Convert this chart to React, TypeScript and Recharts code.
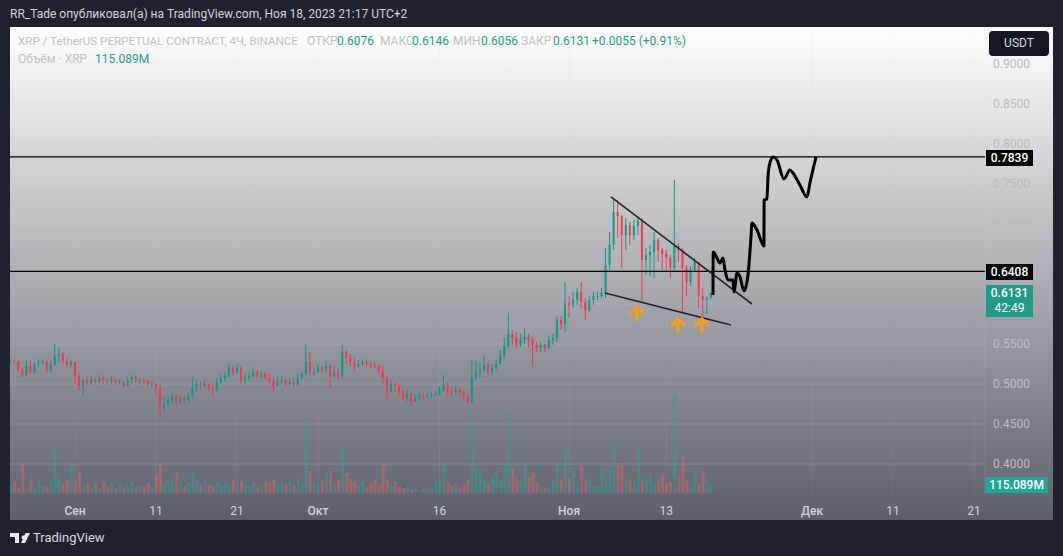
import React from 'react'
import { ComposedChart, Bar, Line, XAxis, YAxis, CartesianGrid, ReferenceLine, ReferenceDot } from 'recharts'

// 12h candles, first one about Aug 24
const closes = [
  .529, .528, .5175, .511, .5225, .515, .525, .5275, .529, .5175, .524, .535, .5375, .529, .524, .5275, .51, .4975, .505, .501,
  .506, .5025, .5075, .505, .504, .506, .5025, .5025, .4975, .505, .509, .505, .505, .504, .5, .5, .495, .47, .475, .48,
  .485, .4775, .4825, .48, .485, .495, .5, .4975, .5, .495, .4925, .5025, .5075, .51, .52, .515, .52, .505, .5075, .51,
  .515, .511, .5125, .5075, .504, .495, .5025, .505, .5, .5025, .5, .5075, .5125, .5275, .515, .515, .52, .5175, .5225, .51,
  .515, .51, .54, .5325, .5275, .5225, .525, .5275, .525, .524, .5225, .516, .5075, .49, .5, .4975, .49, .4825, .4875, .4775,
  .4825, .485, .484, .485, .486, .4875, .4925, .499, .491, .49, .4925, .49, .485, .4775, .5075, .515, .5175, .525, .515, .52,
  .525, .536, .5475, .5625, .5575, .549, .555, .559, .555, .549, .545, .549, .545, .555, .5575, .58, .575, .601, .599, .606,
  .615, .6025, .5925, .605, .61, .61, .614, .649, .674, .715, .71, .686, .699, .686, .6975, .704, .655, .661, .665, .68,
  .6675, .6625, .6575, .645, .6725, .6675, .645, .6275, .6425, .6525, .61, .605, .6076, .6131,
]
const highs = [
  .53, .531, .529, .52, .53, .529, .5275, .531, .531, .529, .53, .55, .546, .54, .5325, .53, .5275, .5125, .5075, .509,
  .51, .509, .511, .51, .5075, .51, .5075, .506, .505, .509, .511, .51, .5075, .506, .505, .504, .501, .5, .485, .485,
  .49, .4875, .486, .485, .49, .509, .505, .5025, .504, .501, .5025, .5075, .5125, .515, .525, .5225, .525, .5225, .5125, .515,
  .519, .5175, .516, .515, .5125, .5075, .51, .51, .5075, .5075, .5075, .5125, .516, .55, .54, .52, .525, .5225, .529, .525,
  .5225, .52, .549, .5425, .5375, .5325, .53, .531, .53, .5275, .5275, .525, .5225, .51, .505, .5025, .5, .4925, .4925, .49,
  .4875, .49, .489, .489, .49, .491, .4975, .511, .5025, .4975, .4975, .495, .4925, .4875, .53, .529, .5275, .536, .5275, .525,
  .53, .5425, .5575, .589, .5675, .565, .5625, .57, .5625, .559, .5525, .5525, .55, .561, .5625, .585, .585, .6275, .61, .615,
  .62, .6275, .6075, .61, .615, .616, .62, .67, .69, .7325, .73, .711, .7075, .7025, .705, .71, .7075, .67, .674, .69,
  .6825, .67, .6675, .661, .755, .676, .67, .649, .6475, .6575, .6525, .62, .61, .6146,
]
const lows = [
  .525, .5225, .514, .509, .51, .5125, .5125, .521, .524, .514, .515, .5225, .5275, .525, .52, .521, .5, .4925, .486, .4975,
  .499, .499, .501, .5, .499, .5, .499, .499, .495, .4975, .5, .501, .5, .5, .4975, .496, .485, .4575, .465, .4725,
  .475, .4725, .475, .475, .4775, .4825, .49, .4925, .495, .491, .485, .49, .5, .5025, .5075, .51, .5125, .5, .5, .505,
  .5075, .5075, .5075, .505, .5, .49, .4975, .5, .4975, .4975, .495, .4975, .505, .51, .51, .51, .514, .5125, .514, .495,
  .5075, .505, .5075, .525, .5225, .5175, .52, .5225, .521, .52, .519, .5125, .5, .481, .49, .49, .485, .48, .4775, .4725,
  .4775, .4775, .48, .4825, .4825, .485, .486, .49, .486, .485, .4875, .485, .48, .475, .476, .505, .5075, .515, .511, .511,
  .5175, .524, .5325, .545, .549, .545, .546, .55, .546, .5225, .54, .54, .54, .5425, .549, .5525, .5675, .565, .5825, .595,
  .599, .595, .58, .59, .599, .605, .6075, .6075, .6425, .6675, .6825, .645, .6675, .674, .68, .686, .6025, .636, .635, .6325,
  .6525, .6425, .64, .6325, .64, .6525, .589, .61, .6225, .64, .595, .585, .5875, .6056,
]
const volumes = [
  104, 156, 65, 364, 52, 182, 65, 169, 104, 91, 156, 598, 182, 117, 169, 377, 156, 273, 104, 117,
  78, 130, 65, 143, 78, 117, 65, 130, 78, 104, 156, 78, 117, 91, 130, 78, 234, 377, 130, 156,
  195, 260, 182, 91, 130, 273, 156, 104, 169, 117, 91, 143, 104, 156, 117, 169, 130, 156, 104, 91,
  143, 78, 117, 156, 130, 169, 104, 143, 117, 156, 104, 182, 130, 975, 286, 130, 104, 156, 260, 286,
  117, 169, 585, 260, 182, 156, 104, 156, 78, 130, 169, 104, 364, 182, 117, 156, 78, 65, 104, 52,
  65, 39, 52, 78, 65, 156, 169, 364, 143, 104, 117, 78, 117, 169, 949, 338, 312, 156, 117, 208,
  286, 182, 364, 1066, 325, 195, 169, 364, 208, 260, 130, 104, 65, 78, 156, 364, 182, 585, 195, 286,
  156, 351, 156, 182, 104, 91, 312, 208, 364, 650, 390, 364, 182, 156, 169, 585, 156, 182, 234, 130,
  156, 234, 117, 143, 1300, 208, 494, 156, 130, 286, 117, 286, 156, 115,
]

// days counted from Sep 1
const tickDays = [0, 10, 20, 30, 45, 61, 73, 91, 101, 111]
const tickLabels = ['Сен', '11', '21', 'Окт', '16', 'Ноя', '13', 'Дек', '11', '21']
const monthLabels = ['Сен', 'Окт', 'Ноя', 'Дек']
const priceTicks = [0.4, 0.45, 0.5, 0.55, 0.7, 0.75, 0.8, 0.85, 0.9]
const gridPrices = [0.4, 0.45, 0.5, 0.55, 0.6, 0.65, 0.7, 0.75, 0.8, 0.85, 0.9]

// hand-drawn forecast path
const drawnDays = [78.77, 78.77, 78.8, 79.26, 79.63, 80, 80.25, 80.62, 81.23, 81.36, 81.73, 82.1, 82.59, 83.09, 83.46, 83.58, 84.2, 85.06, 85.08, 85.43, 85.56, 85.8, 86.17, 86.67, 87.53, 88.27, 88.64, 89.5, 90.37, 90.74, 91.1, 91.5]
const drawnPrices = [.6113, .615, .665, .6575, .6513, .6575, .6425, .63, .63, .615, .6388, .6338, .6163, .6363, .6838, .7013, .6925, .6725, .73, .7313, .7588, .7763, .7838, .78, .7563, .7675, .7638, .7488, .7338, .7513, .7675, .7838]

const arrowDays = [69.38, 74.44, 77.4]
const arrowPrices = [.5888, .5738, .5738]

const candles = closes.map((close, i) => ({
  day: -8 + i * 0.5,
  open: i === 0 ? .5275 : closes[i - 1],
  close,
  high: highs[i],
  low: lows[i],
  vol: volumes[i],
}))
const drawn = drawnDays.map((day, i) => ({ day, price: drawnPrices[i] }))

const GREEN = '#149a84'
const RED = '#f23a55'

const Candle = (props: any) => {
  const { x, y, width, height, payload } = props
  const { open, close, high, low } = payload
  const k = height / (high - low)
  const cx = x + width / 2
  const toY = (p: number) => y + (high - Math.min(high, Math.max(low, p))) * k
  const top = toY(Math.max(open, close))
  const bottom = toY(Math.min(open, close))
  const color = close >= open ? GREEN : RED
  return (
    <g>
      <line x1={cx} x2={cx} y1={y} y2={y + height} stroke={color} strokeWidth={1} />
      <rect x={cx - 1} y={top} width={2} height={Math.max(bottom - top, 1)} fill={color} />
    </g>
  )
}

const VolumeBar = (props: any) => {
  const { x, y, width, height, payload } = props
  const color = payload.close >= payload.open ? '#2aa596' : '#ea6065'
  return <rect x={x + width / 2 - 1.5} y={y} width={3} height={height} fill={color} fillOpacity={0.42} />
}

const Arrow = (props: any) => {
  const { cx, cy } = props
  return (
    <path
      d={`M${cx} ${cy + 8}V${cy - 6}M${cx - 7} ${cy + 1}L${cx} ${cy - 6}L${cx + 7} ${cy + 1}`}
      fill="none"
      stroke="#f39c1f"
      strokeWidth={3.4}
    />
  )
}

const TimeTick = (props: any) => {
  const { x, y, payload } = props
  const label = tickLabels[tickDays.indexOf(payload.value)]
  return (
    <text x={x} y={y + 12} textAnchor="middle" fill="#d0d2d8" fontSize={12} fontWeight={monthLabels.includes(label) ? 500 : 400}>
      {label}
    </text>
  )
}

const font = 'Roboto, "Liberation Sans", sans-serif'

const Txt = ({ x, y, color, size = 12, weight = 400, children }: any) => (
  <div style={{ position: 'absolute', left: x, top: y, color, fontSize: size, fontWeight: weight, lineHeight: '14px', whiteSpace: 'nowrap' }}>
    {children}
  </div>
)

const PriceBox = ({ top, height = 16, left = 986, width = 47, bg, children }: any) => (
  <div style={{ position: 'absolute', left, top, width, height, background: bg, color: '#fff', fontSize: 12, fontWeight: 500, textAlign: 'center', lineHeight: '16px' }}>
    {children}
  </div>
)

export default function App() {
  return (
    <div style={{ position: 'absolute', left: 0, top: 0, width: 1063, height: 556, background: '#1e222d', fontFamily: font, overflow: 'hidden' }}>
      <div style={{ position: 'absolute', left: 10, top: 27, width: 1043, height: 493, background: 'linear-gradient(#ffffff, #5c5f6a)' }} />
      <Txt x={10} y={7} color="#d1d4dc" size={12}>RR_Tade опубликовал(а) на TradingView.com, Ноя 18, 2023 21:17 UTC+2</Txt>

      <div style={{ position: 'absolute', left: 0, top: 0 }}>
        <ComposedChart width={1063} height={556} data={candles} margin={{ top: 27, right: 10, bottom: 36, left: 10 }}>
          <CartesianGrid stroke="#d4d6dc" strokeOpacity={0.2} vertical={false} horizontalValues={gridPrices} />
          <CartesianGrid stroke="#d4d6dc" strokeOpacity={0.09} horizontal={false} verticalValues={tickDays} />
          <XAxis
            dataKey="day"
            type="number"
            domain={[-8.02, 112.35]}
            ticks={tickDays}
            allowDataOverflow
            height={25}
            axisLine={false}
            tickLine={false}
            interval={0}
            tick={<TimeTick />}
          />
          <XAxis xAxisId="vol" dataKey="day" type="number" domain={[-8.02, 112.35]} allowDataOverflow hide />
          <YAxis
            orientation="right"
            type="number"
            domain={[0.36125, 0.94625]}
            ticks={priceTicks}
            tickFormatter={(v: number) => v.toFixed(4)}
            allowDataOverflow
            width={68}
            axisLine={{ stroke: '#d4d6dc', strokeOpacity: 0.12 }}
            tickLine={false}
            tick={{ fill: '#b9bcc4', fontSize: 12 }}
          />
          <YAxis yAxisId="vol" type="number" domain={[-26, 6058]} allowDataOverflow hide />
          <Bar xAxisId="vol" yAxisId="vol" dataKey="vol" barSize={3} shape={<VolumeBar />} isAnimationActive={false} />
          <Bar dataKey={(d: any) => [d.low, d.high]} barSize={3} shape={<Candle />} isAnimationActive={false} />
          <ReferenceLine y={0.7839} stroke="#000" strokeWidth={1.3} />
          <ReferenceLine y={0.6408} stroke="#000" strokeWidth={1.3} />
          <ReferenceLine segment={[{ x: 66.17, y: .7338 }, { x: 83.58, y: .6 }]} stroke="#24262c" strokeWidth={1.6} />
          <ReferenceLine segment={[{ x: 65.43, y: .6138 }, { x: 80.99, y: .5738 }]} stroke="#24262c" strokeWidth={1.6} />
          <Line data={drawn} dataKey="price" type="monotoneX" stroke="#000" strokeWidth={3} strokeLinejoin="round" dot={false} isAnimationActive={false} />
          {arrowDays.map((day, i) => (
            <ReferenceDot key={day} x={day} y={arrowPrices[i]} r={7} shape={<Arrow />} />
          ))}
        </ComposedChart>
      </div>

      <Txt x={18} y={34} color="#c0c3ca" size={11.6}>XRP / TetherUS PERPETUAL CONTRACT, 4Ч, BINANCE</Txt>
      <Txt x={307} y={34} color="#c0c3ca">ОТКР</Txt>
      <Txt x={337} y={34} color="#1f9e89">0.6076</Txt>
      <Txt x={380} y={34} color="#c0c3ca">МАКС</Txt>
      <Txt x={412} y={34} color="#1f9e89">0.6146</Txt>
      <Txt x={453} y={34} color="#c0c3ca">МИН</Txt>
      <Txt x={481} y={34} color="#1f9e89">0.6056</Txt>
      <Txt x={521} y={34} color="#c0c3ca">ЗАКР</Txt>
      <Txt x={553} y={34} color="#1f9e89">0.6131</Txt>
      <Txt x={592} y={34} color="#1f9e89">+0.0055 (+0.91%)</Txt>
      <Txt x={18} y={52} color="#c0c3ca">Объём · XRP</Txt>
      <Txt x={95} y={52} color="#1f9e89">115.089M</Txt>

      <div style={{ position: 'absolute', left: 989, top: 31, width: 60, height: 25, background: '#131722', borderRadius: 4, color: '#d8dae0', fontSize: 12, textAlign: 'center', lineHeight: '25px' }}>USDT</div>

      <PriceBox top={150} bg="#000">0.7839</PriceBox>
      <PriceBox top={264} bg="#000">0.6408</PriceBox>
      <PriceBox top={285} height={32} bg="#1f9b87">
        0.6131
        <div style={{ fontWeight: 400, lineHeight: '14px' }}>42:49</div>
      </PriceBox>
      <PriceBox top={477} left={985} width={63} bg="#21a594">115.089M</PriceBox>

      <svg style={{ position: 'absolute', left: 10, top: 532 }} width={20} height={13}>
        <path d="M0 1H9V11H5V5H0Z M13.5 3.5a2 2 0 1 0 0.01 0Z M15 11L20 1H15.5L11 11Z" fill="#e8e9ee" />
      </svg>
      <Txt x={33} y={531} color="#d8dae0" size={13}>TradingView</Txt>
    </div>
  )
}
